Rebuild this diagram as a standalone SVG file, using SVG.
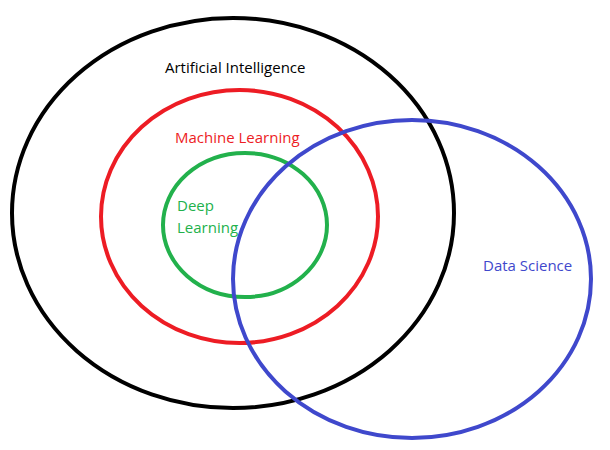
<svg xmlns="http://www.w3.org/2000/svg" width="610" height="450" viewBox="0 0 610 450">
<style>
.c{fill:none;stroke-width:4}
text{font-family:"Open Sans","Liberation Sans",sans-serif;font-size:15px}
</style>
<rect width="610" height="450" fill="#fff"/>
<g id="ai"><ellipse class="c" cx="233" cy="213" rx="221" ry="195" stroke="#000"/><text x="165" y="73" fill="#000">Artificial Intelligence</text></g>
<g id="ml"><ellipse class="c" cx="239.5" cy="216.5" rx="138.5" ry="126.5" stroke="#ed1c24"/><text x="175" y="143" fill="#ed1c24">Machine Learning</text></g>
<g id="dl"><ellipse class="c" cx="245" cy="225" rx="82" ry="72" stroke="#22b14c"/><text x="177" y="211" fill="#22b14c">Deep</text><text x="177" y="233" fill="#22b14c">Learning</text></g>
<g id="ds"><ellipse class="c" cx="412" cy="279" rx="179" ry="159" stroke="#3f48cc"/><text x="483" y="271" fill="#3f48cc">Data Science</text></g>
<g id="connectors"/>
</svg>
